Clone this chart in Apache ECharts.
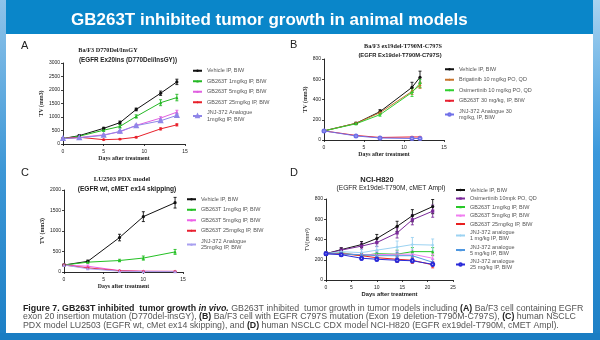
<!DOCTYPE html>
<html>
<head>
<meta charset="utf-8">
<script src="https://cdn.jsdelivr.net/npm/echarts@6/dist/echarts.min.js"></script>
<style>
  html, body { margin: 0; padding: 0; background: #fff; }
  #chart { width: 600px; height: 340px; }
</style>
</head>
<body>
<div id="chart"></div>
<script>
// ---- Panel A: Ba/F3 D770Del/InsGY ----
const daysA = [0, 2, 5, 7, 9, 12, 14];
const vehA = [200, 310, 580, 790, 1280, 1880, 2300];
const gb1A = [200, 290, 510, 650, 1020, 1530, 1720];
const gb5A = [200, 240, 340, 450, 690, 960, 1180];
const gb25A = [200, 250, 160, 180, 250, 560, 710];
const jnjA = [200, 230, 320, 470, 680, 860, 1060];
const vehAErr = [20, 30, 40, 60, 50, 80, 100];
const gb1AErr = [20, 30, 40, 60, 60, 110, 120];
const gb5AErr = [20, 20, 30, 40, 40, 50, 70];
const gb25AErr = [20, 20, 20, 20, 30, 40, 40];
const jnjAErr = [20, 20, 30, 30, 40, 40, 50];

// ---- Panel B: Ba/F3 ex19del-T790M-C797S ----
const daysB = [0, 4, 7, 11, 12];
const vehB = [90, 165, 280, 520, 620];
const brigB = [90, 165, 270, 480, 540];
const osiB = [90, 160, 250, 470, 560];
const gbB = [90, 45, 25, 30, 30];
const jnjB = [90, 40, 20, 15, 15];
const vehBErr = [10, 10, 20, 50, 60];
const brigBErr = [10, 10, 15, 30, 30];
const osiBErr = [10, 10, 15, 40, 40];
const gbBErr = [5, 5, 5, 5, 5];
const jnjBErr = [5, 5, 3, 3, 3];

// ---- Panel C: LU2503 PDX ----
const daysC = [0, 3, 7, 10, 14];
const vehC = [170, 260, 840, 1350, 1690];
const gb1C = [170, 240, 280, 340, 490];
const gb5C = [170, 140, 35, 20, 15];
const gb25C = [170, 100, 30, 15, 15];
const jnjC = [170, 80, 20, 10, 10];
const vehCErr = [20, 30, 80, 120, 130];
const gb1CErr = [20, 20, 30, 50, 60];
const gb5CErr = [20, 30, 10, 5, 5];
const gb25CErr = [20, 20, 10, 5, 5];
const jnjCErr = [20, 20, 5, 5, 5];

// ---- Panel D: NCI-H820 ----
const daysD = [0, 3, 7, 10, 14, 17, 21];
const vehD = [260, 300, 350, 410, 530, 635, 725];
const osiD = [260, 295, 335, 370, 465, 595, 680];
const gb1D = [260, 270, 240, 260, 255, 280, 280];
const gb5D = [260, 260, 250, 250, 255, 255, 215];
const gb25D = [260, 260, 240, 220, 205, 195, 150];
const jnj1D = [260, 280, 270, 295, 325, 350, 345];
const jnj5D = [260, 255, 250, 240, 240, 240, 175];
const jnj25D = [260, 250, 215, 205, 195, 190, 155];
const vehDErr = [15, 20, 30, 40, 50, 60, 70];
const osiDErr = [15, 20, 30, 40, 50, 50, 60];
const gb1DErr = [15, 20, 25, 30, 40, 40, 40];
const gb5DErr = [15, 20, 25, 30, 30, 40, 40];
const gb25DErr = [15, 15, 20, 20, 30, 30, 30];
const jnj1DErr = [15, 20, 30, 40, 60, 70, 60];
const jnj5DErr = [15, 15, 20, 30, 30, 30, 30];
const jnj25DErr = [15, 15, 20, 20, 20, 20, 20];

// Axis ranges and tick steps per panel
const xMax = [15, 15, 15, 25];
const yMax = [3000, 800, 2000, 800];
const yStep = [500, 200, 500, 200];

const SANS = 'Liberation Sans';
const SERIF = 'Liberation Serif';

function curve(panel, key, label, days, vals, color, symbol) {
  const hollow = symbol.indexOf('empty') === 0;
  return {
    type: 'line', name: key + label, xAxisIndex: panel, yAxisIndex: panel,
    data: days.map((d, i) => [d, vals[i]]),
    symbol: symbol, symbolSize: hollow ? 3 : 3.2, showSymbol: true,
    lineStyle: { color: color, width: 1 },
    itemStyle: { color: color, borderWidth: 0.7 },
    z: 4, animation: false, silent: true
  };
}

function errorBars(panel, days, vals, errs, color) {
  return {
    type: 'custom', xAxisIndex: panel, yAxisIndex: panel, silent: true, z: 3, animation: false,
    data: days.map((d, i) => [d, Math.max(0, vals[i] - errs[i]), vals[i] + errs[i]]),
    encode: { x: 0, y: [1, 2] },
    renderItem: function (params, api) {
      const x = api.value(0);
      const lo = api.coord([x, api.value(1)]);
      const hi = api.coord([x, api.value(2)]);
      const c = 1.5;
      const style = { stroke: color, lineWidth: 0.9 };
      return {
        type: 'group', children: [
          { type: 'line', shape: { x1: lo[0], y1: lo[1], x2: hi[0], y2: hi[1] }, style: style },
          { type: 'line', shape: { x1: hi[0] - c, y1: hi[1], x2: hi[0] + c, y2: hi[1] }, style: style },
          { type: 'line', shape: { x1: lo[0] - c, y1: lo[1], x2: lo[0] + c, y2: lo[1] }, style: style }
        ]
      };
    }
  };
}

function pair(panel, key, label, days, vals, errs, color, symbol) {
  return [errorBars(panel, days, vals, errs, color), curve(panel, key, label, days, vals, color, symbol)];
}

const series = [].concat(
  pair(0, 'A:', 'Vehicle IP, BIW', daysA, vehA, vehAErr, '#111', 'circle'),
  pair(0, 'A:', 'GB263T 1mg/kg IP, BIW', daysA, gb1A, gb1AErr, '#24b824', 'triangle'),
  pair(0, 'A:', 'GB263T 5mg/kg IP, BIW', daysA, gb5A, gb5AErr, '#e060e0', 'triangle'),
  pair(0, 'A:', 'GB263T 25mg/kg IP, BIW', daysA, gb25A, gb25AErr, '#e8202a', 'diamond'),
  pair(0, 'A:', 'JNJ-372 Analogue\n1mg/kg IP, BIW', daysA, jnjA, jnjAErr, '#8f86e8', 'emptyTriangle'),

  pair(1, 'B:', 'Vehicle IP, BIW', daysB, vehB, vehBErr, '#111', 'circle'),
  pair(1, 'B:', 'Brigatinib 10 mg/kg PO, QD', daysB, brigB, brigBErr, '#c8742c', 'diamond'),
  pair(1, 'B:', 'Osimertinib 10 mg/kg PO, QD', daysB, osiB, osiBErr, '#30d030', 'diamond'),
  pair(1, 'B:', 'GB263T 30 mg/kg, IP, BIW', daysB, gbB, gbBErr, '#e82030', 'triangle'),
  pair(1, 'B:', 'JNJ-372 Analogue 30\nmg/kg, IP, BIW', daysB, jnjB, jnjBErr, '#7070e8', 'emptyCircle'),

  pair(2, 'C:', 'Vehicle IP, BIW', daysC, vehC, vehCErr, '#111', 'circle'),
  pair(2, 'C:', 'GB263T 1mg/kg IP, BIW', daysC, gb1C, gb1CErr, '#24c024', 'triangle'),
  pair(2, 'C:', 'GB263T 5mg/kg IP, BIW', daysC, gb5C, gb5CErr, '#ee60e8', 'triangle'),
  pair(2, 'C:', 'GB263T 25mg/kg IP, BIW', daysC, gb25C, gb25CErr, '#e82030', 'diamond'),
  pair(2, 'C:', 'JNJ-372 Analogue\n25mg/kg IP, BIW', daysC, jnjC, jnjCErr, '#a9a0f0', 'triangle'),

  pair(3, 'D:', 'Vehicle IP, BIW', daysD, vehD, vehDErr, '#111', 'circle'),
  pair(3, 'D:', 'Osimertinib 10mpk PO, QD', daysD, osiD, osiDErr, '#7b2a9a', 'rect'),
  pair(3, 'D:', 'GB263T 1mg/kg IP, BIW', daysD, gb1D, gb1DErr, '#28c828', 'triangle'),
  pair(3, 'D:', 'GB263T 5mg/kg IP, BIW', daysD, gb5D, gb5DErr, '#f07ef0', 'triangle'),
  pair(3, 'D:', 'GB263T 25mg/kg IP, BIW', daysD, gb25D, gb25DErr, '#e82020', 'diamond'),
  pair(3, 'D:', 'JNJ-372 analogue\n1 mg/kg IP, BIW', daysD, jnj1D, jnj1DErr, '#9cd3f2', 'diamond'),
  pair(3, 'D:', 'JNJ-372 analogue\n5 mg/kg IP, BIW', daysD, jnj5D, jnj5DErr, '#4f97e0', 'triangle'),
  pair(3, 'D:', 'JNJ-372 analogue\n25 mg/kg IP, BIW', daysD, jnj25D, jnj25DErr, '#2a2ad8', 'emptyCircle')
);

function legendNames(key) {
  return series.filter(s => s.type === 'line' && s.name.indexOf(key) === 0).map(s => s.name);
}

function legend(key, left, top, gap, lh) {
  return {
    orient: 'vertical', left: left, top: top, padding: 0,
    itemWidth: 9, itemHeight: 3, itemGap: gap, selectedMode: false,
    data: legendNames(key),
    formatter: n => n.slice(2),
    textStyle: { fontSize: 5.5, color: '#555', lineHeight: lh, fontFamily: SANS }
  };
}

const grids = [
  { left: 63, top: 63, width: 122, height: 81 },
  { left: 324, top: 59, width: 120, height: 81 },
  { left: 64, top: 190, width: 119, height: 82 },
  { left: 326, top: 199, width: 127, height: 81 }
];
const xNameGap = [9, 8, 7, 9];
const yNameGap = [11, 10, 11, 13];
const yNames = ['TV (mm3)', 'TV (mm3)', 'TV (mm3)', 'TV(mm\u00b3)'];

const axisLine = { lineStyle: { color: '#111', width: 0.9 } };
const axisTick = { length: 2, lineStyle: { color: '#111', width: 0.8 } };
const plainNumber = v => String(v);

const xAxes = grids.map((g, i) => ({
  type: 'value', gridIndex: i, min: 0, max: xMax[i], interval: 5, offset: 2.5,
  axisLine: axisLine, axisTick: axisTick, splitLine: { show: false },
  axisLabel: { fontSize: 5, color: '#222', margin: 3, fontFamily: SANS, formatter: plainNumber },
  name: 'Days after treatment', nameLocation: 'middle', nameGap: xNameGap[i],
  nameTextStyle: { fontSize: 5.8, fontWeight: 'bold', color: '#222', fontFamily: i === 3 ? SANS : SERIF }
}));
const yAxes = grids.map((g, i) => ({
  type: 'value', gridIndex: i, min: 0, max: yMax[i], interval: yStep[i],
  axisLine: { show: true, lineStyle: { color: '#111', width: 0.9 } },
  axisTick: { show: true, length: 2, lineStyle: { color: '#111', width: 0.8 } },
  splitLine: { show: false },
  axisLabel: { fontSize: 5, color: '#222', margin: 3, fontFamily: SANS, formatter: plainNumber },
  name: yNames[i], nameLocation: 'middle', nameGap: yNameGap[i], nameRotate: 90,
  nameTextStyle: { fontSize: 5.8, fontWeight: i === 3 ? 'normal' : 'bold', color: '#222', fontFamily: i === 3 ? SANS : SERIF }
}));

function text(x, y, str, size, opts) {
  return {
    type: 'text', x: x, y: y, z: 10, silent: true,
    style: Object.assign({
      text: str, fontSize: size, fill: '#222', fontFamily: SANS,
      align: 'center', verticalAlign: 'middle'
    }, opts || {})
  };
}

const CAP = 8.8;
const capRich = {
  b: { fontSize: CAP, fontWeight: 'bold', fill: '#222', fontFamily: SANS },
  bi: { fontSize: CAP, fontWeight: 'bold', fontStyle: 'italic', fill: '#222', fontFamily: SANS },
  n: { fontSize: CAP, fill: '#555', fontFamily: SANS }
};
function caption(y, str) {
  return {
    type: 'text', x: 23, y: y, z: 10, silent: true,
    style: { text: str, rich: capRich, align: 'left', verticalAlign: 'middle', fontSize: CAP, fill: '#555', fontFamily: SANS }
  };
}

const graphic = [
  // slide frame
  { type: 'rect', shape: { x: 0, y: 0, width: 600, height: 340 }, style: { fill: '#fff' }, z: 0, silent: true },
  { type: 'rect', shape: { x: 0, y: 0, width: 6, height: 340 }, z: 1, silent: true,
    style: { fill: new echarts.graphic.LinearGradient(0, 0, 0, 1, [
      { offset: 0, color: '#8ec3ea' }, { offset: 0.5, color: '#3d97d6' }, { offset: 1, color: '#1c7fc5' }]) } },
  { type: 'rect', shape: { x: 593, y: 0, width: 7, height: 340 }, z: 1, silent: true,
    style: { fill: new echarts.graphic.LinearGradient(0, 0, 0, 1, [
      { offset: 0, color: '#a9d3f0' }, { offset: 0.45, color: '#3a98dc' }, { offset: 1, color: '#1c7fc5' }]) } },
  { type: 'rect', shape: { x: 6, y: 0, width: 587, height: 34 }, style: { fill: '#0a86c9' }, z: 2, silent: true },
  { type: 'rect', shape: { x: 0, y: 333, width: 600, height: 7 }, style: { fill: '#1a7dc3' }, z: 2, silent: true },
  text(71, 20, 'GB263T inhibited tumor growth in animal models', 17,
    { fill: '#fff', fontWeight: 'bold', align: 'left' }),

  // panel letters
  text(21, 46, 'A', 11, { align: 'left' }),
  text(290, 45, 'B', 11, { align: 'left' }),
  text(21, 173, 'C', 11, { align: 'left' }),
  text(290, 173, 'D', 11, { align: 'left' }),

  // panel titles
  text(108, 50, 'Ba/F3 D770Del/InsGY', 6.2, { fontFamily: SERIF, fontWeight: 'bold' }),
  text(128, 60, '(EGFR Ex20ins (D770Del/InsGY))', 6.3, { fontWeight: 'bold' }),
  text(403, 46, 'Ba/F3 ex19del-T790M-C797S', 6.2, { fontFamily: SERIF, fontWeight: 'bold' }),
  text(400, 55.5, '(EGFR Ex19del-T790M-C797S)', 5.8, { fontWeight: 'bold' }),
  text(122, 179, 'LU2503 PDX model', 6.6, { fontFamily: SERIF, fontWeight: 'bold' }),
  text(127, 189, '(EGFR wt, cMET ex14 skipping)', 6.6, { fontWeight: 'bold' }),
  text(377, 180, 'NCI-H820', 7.5, { fontWeight: 'bold' }),
  text(391, 188.5, '(EGFR Ex19del-T790M, cMET Ampl)', 6.6, {}),

  // figure caption
  caption(308.5, '{b|Figure 7. GB263T inhibited  tumor growth }{bi|in vivo.}{n| GB263T inhibited  tumor growth in tumor models including }{b|(A)}{n| Ba/F3 cell containing EGFR}'),
  caption(317, '{n|exon 20 insertion mutation (D770del-insGY), }{b|(B)}{n| Ba/F3 cell with EGFR C797S mutation (Exon 19 deletion-T790M-C797S), }{b|(C)}{n| human NSCLC}'),
  caption(325.5, '{n|PDX model LU2503 (EGFR wt, cMet ex14 skipping), and }{b|(D)}{n| human NSCLC CDX model NCI-H820 (EGFR ex19del-T790M, cMET Ampl).}')
];

const chart = echarts.init(document.getElementById('chart'), null, { renderer: 'canvas' });
chart.setOption({
  animation: false,
  backgroundColor: '#fff',
  grid: grids,
  xAxis: xAxes,
  yAxis: yAxes,
  legend: [
    legend('A:', 192, 67.5, 4, 6.5),
    legend('B:', 444, 66, 4, 6.5),
    legend('C:', 186, 196, 4, 6.5),
    legend('D:', 455, 187, 2.5, 6)
  ],
  graphic: graphic,
  series: series
});
</script>
</body>
</html>
